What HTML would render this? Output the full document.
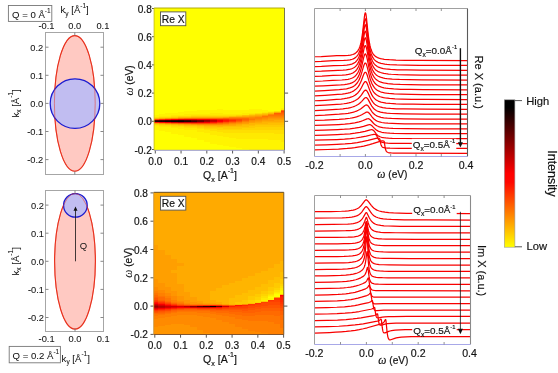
<!DOCTYPE html>
<html lang="en">
<head>
<meta charset="utf-8">
<title>Figure</title>
<style>
html,body{margin:0;padding:0;background:#fff;}
body{width:558px;height:373px;overflow:hidden;}
svg{display:block;font-family:"Liberation Sans", sans-serif;}
text{stroke:#222;stroke-width:0.18px;paint-order:stroke;}
.k text{stroke-width:0.06px;}
</style>
</head>
<body>
<svg width="558" height="373" viewBox="0 0 558 373">
<rect width="558" height="373" fill="#fff"/>
<g class="k">
<ellipse cx="74.8" cy="103.4" rx="20.4" ry="67.8" fill="#ffc9c2" stroke="#e8301c" stroke-width="1.1"/>
<circle cx="75" cy="103.6" r="24.8" fill="#bcbcf4" fill-opacity="0.93" stroke="#1c1cd0" stroke-width="1.3"/>
<ellipse cx="74.8" cy="103.4" rx="20.4" ry="67.8" fill="none" stroke="#e8301c" stroke-width="1" opacity="0.45"/>
<rect x="45.5" y="32.5" width="58" height="142" fill="none" stroke="#a6a6a6" stroke-width="1"/>
<text x="43.2" y="163" font-size="9.3" text-anchor="end" fill="#111">-0.2</text>
<text x="43.2" y="134.9" font-size="9.3" text-anchor="end" fill="#111">-0.1</text>
<text x="43.2" y="106.8" font-size="9.3" text-anchor="end" fill="#111">0.0</text>
<text x="43.2" y="78.7" font-size="9.3" text-anchor="end" fill="#111">0.1</text>
<text x="43.2" y="50.6" font-size="9.3" text-anchor="end" fill="#111">0.2</text>
<text x="46.4" y="28.9" font-size="9.3" text-anchor="middle" fill="#111">-0.1</text>
<text x="74.8" y="28.9" font-size="9.3" text-anchor="middle" fill="#111">0.0</text>
<text x="102.9" y="28.9" font-size="9.3" text-anchor="middle" fill="#111">0.1</text>
<path d="M45.5 159.6 h3 M103.5 159.6 h-3 M45.5 131.5 h3 M103.5 131.5 h-3 M45.5 103.4 h3 M103.5 103.4 h-3 M45.5 75.3 h3 M103.5 75.3 h-3 M45.5 47.2 h3 M103.5 47.2 h-3 M74.8 32.5 v3 M74.8 174.5 v-3" stroke="#7a7a7a" stroke-width="0.9" fill="none"/>
<text transform="translate(18.6 103.4) rotate(-90)" font-size="9.6" text-anchor="middle" fill="#111">k<tspan font-size="6.53" dy="2.88">x</tspan><tspan dy="-2.88">&#8203;</tspan> [&#197;<tspan font-size="6.53" dy="-5.18">-1</tspan><tspan dy="5.18">&#8203;</tspan>]</text>
</g>
<g class="k">
<ellipse cx="75" cy="261.3" rx="20.4" ry="67.8" fill="#ffc9c2" stroke="#e8301c" stroke-width="1.1"/>
<circle cx="75.4" cy="205.4" r="11.8" fill="#bcbcf4" fill-opacity="0.93" stroke="#1c1cd0" stroke-width="1.3"/>
<ellipse cx="75" cy="261.3" rx="20.4" ry="67.8" fill="none" stroke="#e8301c" stroke-width="1" opacity="0.45"/>
<line x1="75.5" y1="261.3" x2="75.5" y2="208.4" stroke="#111" stroke-width="0.8"/>
<path d="M75.5 206.4 l-2 4.4 h4 z" fill="#111"/>
<text x="83.5" y="249.3" font-size="9.5" text-anchor="middle" fill="#111" style="stroke-width:0">Q</text>
<rect x="45.5" y="190.5" width="58" height="141" fill="none" stroke="#a6a6a6" stroke-width="1"/>
<text x="44" y="320.9" font-size="9.3" text-anchor="end" fill="#111">-0.2</text>
<text x="44" y="292.8" font-size="9.3" text-anchor="end" fill="#111">-0.1</text>
<text x="44" y="264.7" font-size="9.3" text-anchor="end" fill="#111">0.0</text>
<text x="44" y="236.6" font-size="9.3" text-anchor="end" fill="#111">0.1</text>
<text x="44" y="208.5" font-size="9.3" text-anchor="end" fill="#111">0.2</text>
<text x="46.6" y="342.3" font-size="9.3" text-anchor="middle" fill="#111">-0.1</text>
<text x="75" y="342.3" font-size="9.3" text-anchor="middle" fill="#111">0.0</text>
<text x="103.1" y="342.3" font-size="9.3" text-anchor="middle" fill="#111">0.1</text>
<path d="M45.5 317.5 h3 M103.5 317.5 h-3 M45.5 289.4 h3 M103.5 289.4 h-3 M45.5 261.3 h3 M103.5 261.3 h-3 M45.5 233.2 h3 M103.5 233.2 h-3 M45.5 205.1 h3 M103.5 205.1 h-3 M75 190.5 v3 M75 331.5 v-3" stroke="#7a7a7a" stroke-width="0.9" fill="none"/>
<text transform="translate(18.6 261.3) rotate(-90)" font-size="9.6" text-anchor="middle" fill="#111">k<tspan font-size="6.53" dy="2.88">x</tspan><tspan dy="-2.88">&#8203;</tspan> [&#197;<tspan font-size="6.53" dy="-5.18">-1</tspan><tspan dy="5.18">&#8203;</tspan>]</text>
</g>
<g class="k">
<rect x="8.4" y="5.5" width="43.4" height="15.9" fill="#fff" stroke="#777" stroke-width="0.9"/>
<text x="12" y="18.4" font-size="9.6" text-anchor="start" fill="#111">Q = 0 &#197;<tspan font-size="6.53" dy="-5.18">-1</tspan><tspan dy="5.18">&#8203;</tspan></text>
<text x="60.5" y="13.2" font-size="9.6" text-anchor="start" fill="#111">k<tspan font-size="6.53" dy="2.88">y</tspan><tspan dy="-2.88">&#8203;</tspan> [&#197;<tspan font-size="6.53" dy="-5.18">-1</tspan><tspan dy="5.18">&#8203;</tspan>]</text>
<rect x="9.2" y="346.4" width="51.2" height="16.4" fill="#fff" stroke="#777" stroke-width="0.9"/>
<text x="12.6" y="359.3" font-size="9.6" text-anchor="start" fill="#111">Q = 0.2 &#197;<tspan font-size="6.53" dy="-5.18">-1</tspan><tspan dy="5.18">&#8203;</tspan></text>
<text x="61.6" y="361.5" font-size="9.6" text-anchor="start" fill="#111">k<tspan font-size="6.53" dy="2.88">y</tspan><tspan dy="-2.88">&#8203;</tspan> [&#197;<tspan font-size="6.53" dy="-5.18">-1</tspan><tspan dy="5.18">&#8203;</tspan>]</text>
</g>
<g shape-rendering="crispEdges">
<rect x="154.1" y="8" width="130.4" height="142.3" fill="#ffff00"/>
<path fill="#fff400" d="M154.1 115.2H158.5V117.2H154.1zM154.1 126.2H158.5V130.3H154.1zM158.5 114.2H165V116.2H158.5zM158.5 127.3H165V131.3H158.5zM165 113.2H171.4V116.2H165zM165 127.3H171.4V132.3H165zM171.4 113.2H177.8V115.2H171.4zM171.4 128.3H177.8V134.3H171.4zM177.8 112.2H184.3V115.2H177.8zM177.8 129.3H184.3V135.3H177.8zM184.3 111.2H190.7V114.2H184.3zM184.3 130.3H190.7V137.3H184.3zM190.7 111.2H197.2V114.2H190.7zM190.7 130.3H197.2V138.3H190.7zM197.2 110.2H203.6V114.2H197.2zM197.2 132.3H203.6V140.3H197.2zM203.6 110.2H210V114.2H203.6zM203.6 133.3H210V142.3H203.6zM210 110.2H216.5V113.2H210zM210 135.3H216.5V144.3H210zM216.5 109.2H222.9V113.2H216.5zM216.5 136.3H222.9V145.3H216.5zM222.9 110.2H229.4V114.2H222.9zM222.9 137.3H229.4V146.3H222.9zM229.4 110.2H235.8V114.2H229.4zM229.4 138.3H235.8V147.3H229.4zM235.8 110.2H242.2V114.2H235.8zM235.8 139.3H242.2V148.3H235.8zM242.2 110.2H248.7V113.2H242.2zM242.2 139.3H248.7V149.3H242.2zM248.7 109.2H255.1V113.2H248.7zM248.7 139.3H255.1V150.3H248.7zM255.1 109.2H261.6V113.2H255.1zM255.1 139.3H261.6V150.3H255.1zM261.6 110.2H268V112.2H261.6zM261.6 139.3H268V150.3H261.6zM268 111.2H274.4V112.2H268zM268 140.3H274.4V150.3H268zM274.4 140.3H280.9V150.3H274.4zM280.9 108.2H284.5V109.2H280.9zM280.9 142.3H284.5V150.3H280.9z"/>
<path fill="#ffdf00" d="M154.1 117.2H158.5V118.2H154.1zM158.5 125.2H165V126.2H158.5zM165 125.2H171.4V126.2H165zM171.4 116.2H177.8V117.2H171.4zM171.4 126.2H177.8V127.3H171.4zM177.8 126.2H184.3V127.3H177.8zM184.3 127.3H190.7V128.3H184.3zM190.7 115.2H197.2V116.2H190.7zM190.7 127.3H197.2V128.3H190.7zM197.2 115.2H203.6V116.2H197.2zM197.2 128.3H203.6V129.3H197.2zM203.6 115.2H210V116.2H203.6zM203.6 129.3H210V130.3H203.6zM210 115.2H216.5V116.2H210zM210 129.3H216.5V131.3H210zM216.5 115.2H222.9V116.2H216.5zM216.5 130.3H222.9V132.3H216.5zM222.9 115.2H229.4V116.2H222.9zM222.9 130.3H229.4V133.3H222.9zM229.4 115.2H235.8V116.2H229.4zM229.4 130.3H235.8V133.3H229.4zM235.8 130.3H242.2V133.3H235.8zM242.2 130.3H248.7V133.3H242.2zM248.7 130.3H255.1V133.3H248.7zM255.1 113.2H261.6V114.2H255.1zM255.1 130.3H261.6V133.3H255.1zM261.6 130.3H268V133.3H261.6zM268 130.3H274.4V133.3H268zM274.4 111.2H280.9V112.2H274.4zM274.4 130.3H280.9V134.3H274.4zM280.9 130.3H284.5V134.3H280.9z"/>
<path fill="#ffb500" d="M154.1 118.2H158.5V119.2H154.1zM171.4 124.2H177.8V125.2H171.4zM177.8 117.2H184.3V118.2H177.8zM184.3 117.2H190.7V118.2H184.3zM197.2 125.2H203.6V126.2H197.2zM216.5 126.2H222.9V127.3H216.5zM235.8 116.2H242.2V117.2H235.8zM235.8 125.2H242.2V126.2H235.8zM242.2 124.2H248.7V125.2H242.2zM248.7 115.2H255.1V116.2H248.7zM248.7 123.2H255.1V125.2H248.7zM255.1 123.2H261.6V124.2H255.1zM261.6 114.2H268V115.2H261.6zM261.6 122.2H268V124.2H261.6zM268 113.2H274.4V114.2H268zM268 122.2H274.4V123.2H268zM274.4 122.2H280.9V123.2H274.4zM280.9 122.2H284.5V123.2H280.9z"/>
<path fill="#ff4a00" d="M154.1 119.2H158.5V120.2H154.1zM190.7 123.2H197.2V124.2H190.7zM197.2 123.2H203.6V124.2H197.2zM203.6 123.2H210V124.2H203.6zM235.8 119.2H242.2V121.2H235.8z"/>
<path fill="#550000" d="M154.1 120.2H158.5V121.2H154.1z"/>
<path fill="#200000" d="M154.1 121.2H158.5V122.2H154.1zM158.5 121.2H165V122.2H158.5zM184.3 121.2H190.7V122.2H184.3z"/>
<path fill="#ff2000" d="M154.1 122.2H158.5V123.2H154.1zM216.5 119.2H222.9V120.2H216.5zM222.9 121.2H229.4V122.2H222.9z"/>
<path fill="#ffaa00" d="M154.1 123.2H158.5V124.2H154.1zM158.5 118.2H165V119.2H158.5zM177.8 124.2H184.3V125.2H177.8zM190.7 117.2H197.2V118.2H190.7zM197.2 117.2H203.6V118.2H197.2zM203.6 117.2H210V118.2H203.6zM203.6 125.2H210V126.2H203.6zM210 117.2H216.5V118.2H210zM210 125.2H216.5V126.2H210zM216.5 117.2H222.9V118.2H216.5zM216.5 125.2H222.9V126.2H216.5zM222.9 125.2H229.4V126.2H222.9zM229.4 125.2H235.8V126.2H229.4zM235.8 124.2H242.2V125.2H235.8zM242.2 116.2H248.7V117.2H242.2zM255.1 115.2H261.6V116.2H255.1zM255.1 122.2H261.6V123.2H255.1zM261.6 121.2H268V122.2H261.6zM268 121.2H274.4V122.2H268zM274.4 112.2H280.9V113.2H274.4zM274.4 120.2H280.9V122.2H274.4zM280.9 120.2H284.5V122.2H280.9z"/>
<path fill="#ffd400" d="M154.1 124.2H158.5V125.2H154.1zM158.5 117.2H165V118.2H158.5zM165 117.2H171.4V118.2H165zM171.4 125.2H177.8V126.2H171.4zM177.8 116.2H184.3V117.2H177.8zM184.3 116.2H190.7V117.2H184.3zM184.3 126.2H190.7V127.3H184.3zM190.7 126.2H197.2V127.3H190.7zM197.2 127.3H203.6V128.3H197.2zM203.6 128.3H210V129.3H203.6zM210 128.3H216.5V129.3H210zM216.5 128.3H222.9V130.3H216.5zM222.9 129.3H229.4V130.3H222.9zM229.4 129.3H235.8V130.3H229.4zM235.8 115.2H242.2V116.2H235.8zM235.8 129.3H242.2V130.3H235.8zM242.2 128.3H248.7V130.3H242.2zM248.7 114.2H255.1V115.2H248.7zM248.7 128.3H255.1V130.3H248.7zM255.1 127.3H261.6V130.3H255.1zM261.6 127.3H268V130.3H261.6zM268 112.2H274.4V113.2H268zM268 127.3H274.4V130.3H268zM274.4 127.3H280.9V130.3H274.4zM280.9 127.3H284.5V130.3H280.9z"/>
<path fill="#ffea00" d="M154.1 125.2H158.5V126.2H154.1zM158.5 116.2H165V117.2H158.5zM158.5 126.2H165V127.3H158.5zM165 116.2H171.4V117.2H165zM165 126.2H171.4V127.3H165zM171.4 115.2H177.8V116.2H171.4zM171.4 127.3H177.8V128.3H171.4zM177.8 115.2H184.3V116.2H177.8zM177.8 127.3H184.3V129.3H177.8zM184.3 114.2H190.7V116.2H184.3zM184.3 128.3H190.7V130.3H184.3zM190.7 114.2H197.2V115.2H190.7zM190.7 128.3H197.2V130.3H190.7zM197.2 114.2H203.6V115.2H197.2zM197.2 129.3H203.6V132.3H197.2zM203.6 114.2H210V115.2H203.6zM203.6 130.3H210V133.3H203.6zM210 113.2H216.5V115.2H210zM210 131.3H216.5V135.3H210zM216.5 113.2H222.9V115.2H216.5zM216.5 132.3H222.9V136.3H216.5zM222.9 114.2H229.4V115.2H222.9zM222.9 133.3H229.4V137.3H222.9zM229.4 114.2H235.8V115.2H229.4zM229.4 133.3H235.8V138.3H229.4zM235.8 114.2H242.2V115.2H235.8zM235.8 133.3H242.2V139.3H235.8zM242.2 113.2H248.7V115.2H242.2zM242.2 133.3H248.7V139.3H242.2zM248.7 113.2H255.1V114.2H248.7zM248.7 133.3H255.1V139.3H248.7zM255.1 133.3H261.6V139.3H255.1zM261.6 112.2H268V113.2H261.6zM261.6 133.3H268V139.3H261.6zM268 133.3H274.4V140.3H268zM274.4 134.3H280.9V140.3H274.4zM280.9 109.2H284.5V110.2H280.9zM280.9 134.3H284.5V142.3H280.9z"/>
<path fill="#ff2a00" d="M158.5 119.2H165V120.2H158.5zM222.9 119.2H229.4V120.2H222.9zM229.4 120.2H235.8V121.2H229.4z"/>
<path fill="#4a0000" d="M158.5 120.2H165V121.2H158.5z"/>
<path fill="#ff0b00" d="M158.5 122.2H165V123.2H158.5zM210 119.2H216.5V120.2H210z"/>
<path fill="#ff9500" d="M158.5 123.2H165V124.2H158.5zM165 118.2H171.4V119.2H165zM190.7 124.2H197.2V125.2H190.7zM222.9 124.2H229.4V125.2H222.9zM235.8 123.2H242.2V124.2H235.8zM242.2 122.2H248.7V123.2H242.2zM248.7 121.2H255.1V122.2H248.7zM255.1 116.2H261.6V117.2H255.1zM255.1 120.2H261.6V121.2H255.1zM261.6 115.2H268V116.2H261.6zM261.6 119.2H268V120.2H261.6zM268 118.2H274.4V119.2H268zM274.4 118.2H280.9V119.2H274.4zM280.9 118.2H284.5V119.2H280.9z"/>
<path fill="#ffca00" d="M158.5 124.2H165V125.2H158.5zM171.4 117.2H177.8V118.2H171.4zM177.8 125.2H184.3V126.2H177.8zM190.7 116.2H197.2V117.2H190.7zM197.2 116.2H203.6V117.2H197.2zM197.2 126.2H203.6V127.3H197.2zM203.6 116.2H210V117.2H203.6zM203.6 127.3H210V128.3H203.6zM210 116.2H216.5V117.2H210zM210 127.3H216.5V128.3H210zM216.5 116.2H222.9V117.2H216.5zM216.5 127.3H222.9V128.3H216.5zM222.9 116.2H229.4V117.2H222.9zM222.9 127.3H229.4V129.3H222.9zM229.4 127.3H235.8V129.3H229.4zM235.8 127.3H242.2V129.3H235.8zM242.2 127.3H248.7V128.3H242.2zM248.7 126.2H255.1V128.3H248.7zM255.1 125.2H261.6V127.3H255.1zM261.6 113.2H268V114.2H261.6zM261.6 125.2H268V127.3H261.6zM268 125.2H274.4V127.3H268zM274.4 125.2H280.9V127.3H274.4zM280.9 125.2H284.5V127.3H280.9z"/>
<path fill="#ff1500" d="M165 119.2H171.4V120.2H165zM210 122.2H216.5V123.2H210zM222.9 120.2H229.4V121.2H222.9z"/>
<path fill="#400000" d="M165 120.2H171.4V121.2H165zM184.3 120.2H190.7V121.2H184.3zM190.7 121.2H197.2V122.2H190.7z"/>
<path fill="#150000" d="M165 121.2H171.4V122.2H165z"/>
<path fill="#f40000" d="M165 122.2H171.4V123.2H165zM203.6 122.2H210V123.2H203.6zM216.5 120.2H222.9V121.2H216.5z"/>
<path fill="#ff8000" d="M165 123.2H171.4V124.2H165zM235.8 122.2H242.2V123.2H235.8zM242.2 121.2H248.7V122.2H242.2zM248.7 118.2H255.1V119.2H248.7zM255.1 117.2H261.6V119.2H255.1zM261.6 117.2H268V118.2H261.6zM268 116.2H274.4V117.2H268zM274.4 116.2H280.9V117.2H274.4zM280.9 116.2H284.5V117.2H280.9z"/>
<path fill="#ffbf00" d="M165 124.2H171.4V125.2H165zM184.3 125.2H190.7V126.2H184.3zM190.7 125.2H197.2V126.2H190.7zM203.6 126.2H210V127.3H203.6zM210 126.2H216.5V127.3H210zM222.9 126.2H229.4V127.3H222.9zM229.4 116.2H235.8V117.2H229.4zM229.4 126.2H235.8V127.3H229.4zM235.8 126.2H242.2V127.3H235.8zM242.2 115.2H248.7V116.2H242.2zM242.2 125.2H248.7V127.3H242.2zM248.7 125.2H255.1V126.2H248.7zM255.1 114.2H261.6V115.2H255.1zM255.1 124.2H261.6V125.2H255.1zM261.6 124.2H268V125.2H261.6zM268 123.2H274.4V125.2H268zM274.4 123.2H280.9V125.2H274.4zM280.9 123.2H284.5V125.2H280.9z"/>
<path fill="#ff8a00" d="M171.4 118.2H177.8V119.2H171.4zM197.2 124.2H203.6V125.2H197.2zM203.6 124.2H210V125.2H203.6zM210 124.2H216.5V125.2H210zM216.5 124.2H222.9V125.2H216.5zM229.4 117.2H235.8V118.2H229.4zM229.4 123.2H235.8V124.2H229.4zM235.8 117.2H242.2V118.2H235.8zM242.2 117.2H248.7V118.2H242.2zM248.7 117.2H255.1V118.2H248.7zM248.7 120.2H255.1V121.2H248.7zM255.1 119.2H261.6V120.2H255.1zM261.6 118.2H268V119.2H261.6zM268 114.2H274.4V115.2H268zM268 117.2H274.4V118.2H268zM274.4 117.2H280.9V118.2H274.4zM280.9 117.2H284.5V118.2H280.9z"/>
<path fill="#ff0000" d="M171.4 119.2H177.8V120.2H171.4zM197.2 119.2H203.6V120.2H197.2zM203.6 119.2H210V120.2H203.6zM216.5 121.2H222.9V122.2H216.5z"/>
<path fill="#350000" d="M171.4 120.2H177.8V121.2H171.4z"/>
<path fill="#0b0000" d="M171.4 121.2H177.8V122.2H171.4zM177.8 121.2H184.3V122.2H177.8z"/>
<path fill="#d40000" d="M171.4 122.2H177.8V123.2H171.4z"/>
<path fill="#ff6a00" d="M171.4 123.2H177.8V124.2H171.4zM184.3 118.2H190.7V119.2H184.3zM190.7 118.2H197.2V119.2H190.7zM197.2 118.2H203.6V119.2H197.2zM203.6 118.2H210V119.2H203.6zM210 118.2H216.5V119.2H210zM216.5 118.2H222.9V119.2H216.5zM216.5 123.2H222.9V124.2H216.5zM229.4 118.2H235.8V119.2H229.4zM229.4 122.2H235.8V123.2H229.4zM235.8 118.2H242.2V119.2H235.8zM242.2 118.2H248.7V119.2H242.2zM242.2 120.2H248.7V121.2H242.2zM274.4 114.2H280.9V115.2H274.4zM280.9 114.2H284.5V115.2H280.9z"/>
<path fill="#ff7500" d="M177.8 118.2H184.3V119.2H177.8zM222.9 123.2H229.4V124.2H222.9zM248.7 119.2H255.1V120.2H248.7zM261.6 116.2H268V117.2H261.6zM268 115.2H274.4V116.2H268zM274.4 115.2H280.9V116.2H274.4zM280.9 110.2H284.5V111.2H280.9zM280.9 115.2H284.5V116.2H280.9z"/>
<path fill="#ea0000" d="M177.8 119.2H184.3V120.2H177.8zM184.3 119.2H190.7V120.2H184.3zM190.7 119.2H197.2V120.2H190.7z"/>
<path fill="#2b0000" d="M177.8 120.2H184.3V121.2H177.8z"/>
<path fill="#bf0000" d="M177.8 122.2H184.3V123.2H177.8zM210 120.2H216.5V121.2H210z"/>
<path fill="#ff6000" d="M177.8 123.2H184.3V124.2H177.8zM222.9 118.2H229.4V119.2H222.9zM235.8 121.2H242.2V122.2H235.8zM242.2 119.2H248.7V120.2H242.2zM274.4 113.2H280.9V114.2H274.4zM280.9 113.2H284.5V114.2H280.9z"/>
<path fill="#ca0000" d="M184.3 122.2H190.7V123.2H184.3zM190.7 122.2H197.2V123.2H190.7zM210 121.2H216.5V122.2H210z"/>
<path fill="#ff5500" d="M184.3 123.2H190.7V124.2H184.3zM210 123.2H216.5V124.2H210zM222.9 122.2H229.4V123.2H222.9zM280.9 112.2H284.5V113.2H280.9z"/>
<path fill="#ff9f00" d="M184.3 124.2H190.7V125.2H184.3zM222.9 117.2H229.4V118.2H222.9zM229.4 124.2H235.8V125.2H229.4zM242.2 123.2H248.7V124.2H242.2zM248.7 116.2H255.1V117.2H248.7zM248.7 122.2H255.1V123.2H248.7zM255.1 121.2H261.6V122.2H255.1zM261.6 120.2H268V121.2H261.6zM268 119.2H274.4V121.2H268zM274.4 119.2H280.9V120.2H274.4zM280.9 119.2H284.5V120.2H280.9z"/>
<path fill="#600000" d="M190.7 120.2H197.2V121.2H190.7z"/>
<path fill="#750000" d="M197.2 120.2H203.6V121.2H197.2z"/>
<path fill="#6a0000" d="M197.2 121.2H203.6V122.2H197.2z"/>
<path fill="#df0000" d="M197.2 122.2H203.6V123.2H197.2z"/>
<path fill="#950000" d="M203.6 120.2H210V121.2H203.6z"/>
<path fill="#9f0000" d="M203.6 121.2H210V122.2H203.6z"/>
<path fill="#ff3500" d="M216.5 122.2H222.9V123.2H216.5z"/>
<path fill="#ff4000" d="M229.4 119.2H235.8V120.2H229.4zM229.4 121.2H235.8V122.2H229.4zM280.9 111.2H284.5V112.2H280.9z"/>
</g>
<text x="151.8" y="12.5" font-size="10.1" text-anchor="end" fill="#111">0.8</text>
<text x="151.8" y="40.7" font-size="10.1" text-anchor="end" fill="#111">0.6</text>
<text x="151.8" y="68.9" font-size="10.1" text-anchor="end" fill="#111">0.4</text>
<text x="151.8" y="97.1" font-size="10.1" text-anchor="end" fill="#111">0.2</text>
<text x="151.8" y="125.3" font-size="10.1" text-anchor="end" fill="#111">0.0</text>
<text x="151.8" y="153.5" font-size="10.1" text-anchor="end" fill="#111">-0.2</text>
<text x="155.3" y="164.7" font-size="10.1" text-anchor="middle" fill="#111">0.0</text>
<text x="181.06" y="164.7" font-size="10.1" text-anchor="middle" fill="#111">0.1</text>
<text x="206.82" y="164.7" font-size="10.1" text-anchor="middle" fill="#111">0.2</text>
<text x="232.58" y="164.7" font-size="10.1" text-anchor="middle" fill="#111">0.3</text>
<text x="258.34" y="164.7" font-size="10.1" text-anchor="middle" fill="#111">0.4</text>
<text x="284.1" y="164.7" font-size="10.1" text-anchor="middle" fill="#111">0.5</text>
<path d="M154.1 8.5 h-2.2 M154.1 36.7 h-2.2 M154.1 64.9 h-2.2 M154.1 93.1 h-2.2 M154.1 121.3 h-2.2 M154.1 149.5 h-2.2 M284.5 93.1 h3.6 M284.5 121.3 h3.6 M155.3 150.3 v3.2 M181.06 150.3 v3.2 M206.82 150.3 v3.2 M232.58 150.3 v3.2 M258.34 150.3 v3.2 M284.1 150.3 v3.2" stroke="#444" stroke-width="0.9" fill="none"/>
<path d="M154.1 8 H284.5" stroke="#a8a000" stroke-width="0.9" fill="none"/>
<path d="M284.5 8 V150.3" stroke="#6a6a50" stroke-width="0.9" fill="none"/>
<path d="M154.1 150.3 H284.5" stroke="#9090c0" stroke-width="0.9" fill="none"/>
<path d="M154.1 8 V150.3" stroke="#c8c020" stroke-width="0.9" fill="none"/>
<text x="220" y="178.5" font-size="10.5" text-anchor="middle" fill="#111">Q<tspan font-size="7.14" dy="3.15">x</tspan><tspan dy="-3.15">&#8203;</tspan> [A<tspan font-size="7.14" dy="-5.67">-1</tspan><tspan dy="5.67">&#8203;</tspan>]</text>
<text transform="translate(133.2 80.5) rotate(-90)" font-size="10.2" text-anchor="middle" fill="#111"><tspan font-family="'Liberation Serif', 'DejaVu Serif', serif" font-style="italic" font-size="11.5" style="stroke-width:0">&#969;</tspan> (eV)</text>
<rect x="160.5" y="11.9" width="25.3" height="13.8" fill="#fff" stroke="#555" stroke-width="0.9"/>
<text x="173.2" y="22.7" font-size="10.3" text-anchor="middle" fill="#111">Re X</text>
<g shape-rendering="crispEdges">
<rect x="153.7" y="192.3" width="130.1" height="142.2" fill="#ffaa00"/>
<path fill="#ff9f00" d="M153.7 245.4H158V279.4H153.7zM158 250.4H164.5V283.4H158zM164.5 255.4H170.9V287.4H164.5zM170.9 259.4H177.3V270.4H170.9zM170.9 273.4H177.3V291.4H170.9zM177.3 263.4H183.8V266.4H177.3zM177.3 284.4H183.8V296.4H177.3zM183.8 292.4H190.2V299.5H183.8zM190.2 297.4H196.7V301.5H190.2zM196.7 300.5H203.1V302.5H196.7zM203.1 302.5H209.5V303.5H203.1zM209.5 302.5H216V303.5H209.5zM222.4 303.5H228.9V304.5H222.4zM273.9 297.4H280.4V298.4H273.9z"/>
<path fill="#ff9500" d="M153.7 279.4H158V287.4H153.7zM153.7 326.5H158V334.5H153.7zM158 283.4H164.5V290.4H158zM158 325.5H164.5V334.5H158zM164.5 287.4H170.9V293.4H164.5zM164.5 324.5H170.9V334.5H164.5zM170.9 291.4H177.3V296.4H170.9zM170.9 323.5H177.3V334.5H170.9zM177.3 296.4H183.8V300.5H177.3zM177.3 323.5H183.8V334.5H177.3zM183.8 299.5H190.2V302.5H183.8zM183.8 324.5H190.2V334.5H183.8zM190.2 301.5H196.7V303.5H190.2zM190.2 326.5H196.7V334.5H190.2zM196.7 302.5H203.1V303.5H196.7zM196.7 329.5H203.1V334.5H196.7zM203.1 332.5H209.5V334.5H203.1z"/>
<path fill="#ff8a00" d="M153.7 287.4H158V291.4H153.7zM153.7 318.5H158V326.5H153.7zM158 290.4H164.5V293.4H158zM158 317.5H164.5V325.5H158zM164.5 293.4H170.9V296.4H164.5zM164.5 316.5H170.9V324.5H164.5zM170.9 296.4H177.3V299.5H170.9zM170.9 315.5H177.3V323.5H170.9zM177.3 300.5H183.8V301.5H177.3zM177.3 314.5H183.8V323.5H177.3zM183.8 302.5H190.2V303.5H183.8zM183.8 314.5H190.2V324.5H183.8zM190.2 314.5H196.7V326.5H190.2zM196.7 315.5H203.1V329.5H196.7zM203.1 303.5H209.5V304.5H203.1zM203.1 316.5H209.5V332.5H203.1zM209.5 303.5H216V304.5H209.5zM209.5 317.5H216V334.5H209.5zM216 303.5H222.4V304.5H216zM216 319.5H222.4V334.5H216zM222.4 321.5H228.9V334.5H222.4zM228.9 323.5H235.3V334.5H228.9zM235.3 326.5H241.7V334.5H235.3zM241.7 303.5H248.2V304.5H241.7zM241.7 328.5H248.2V334.5H241.7zM248.2 330.5H254.6V334.5H248.2zM254.6 331.5H261.1V334.5H254.6zM261.1 332.5H267.5V334.5H261.1z"/>
<path fill="#ff8000" d="M153.7 291.4H158V293.4H153.7zM153.7 315.5H158V318.5H153.7zM158 293.4H164.5V296.4H158zM158 314.5H164.5V317.5H158zM164.5 296.4H170.9V298.4H164.5zM164.5 313.5H170.9V316.5H164.5zM170.9 299.5H177.3V301.5H170.9zM170.9 312.5H177.3V315.5H170.9zM177.3 301.5H183.8V302.5H177.3zM177.3 311.5H183.8V314.5H177.3zM183.8 311.5H190.2V314.5H183.8zM190.2 303.5H196.7V304.5H190.2zM190.2 311.5H196.7V314.5H190.2zM196.7 303.5H203.1V304.5H196.7zM196.7 312.5H203.1V315.5H196.7zM203.1 312.5H209.5V316.5H203.1zM209.5 313.5H216V317.5H209.5zM216 314.5H222.4V319.5H216zM222.4 315.5H228.9V321.5H222.4zM228.9 316.5H235.3V323.5H228.9zM235.3 318.5H241.7V326.5H235.3zM241.7 319.5H248.2V328.5H241.7zM248.2 320.5H254.6V330.5H248.2zM254.6 320.5H261.1V331.5H254.6zM261.1 320.5H267.5V332.5H261.1zM267.5 321.5H273.9V334.5H267.5zM273.9 323.5H280.4V334.5H273.9zM280.4 327.5H283.8V334.5H280.4z"/>
<path fill="#ff7500" d="M153.7 293.4H158V295.4H153.7zM153.7 313.5H158V315.5H153.7zM158 296.4H164.5V297.4H158zM158 313.5H164.5V314.5H158zM164.5 298.4H170.9V300.5H164.5zM164.5 312.5H170.9V313.5H164.5zM170.9 301.5H177.3V302.5H170.9zM170.9 311.5H177.3V312.5H170.9zM177.3 302.5H183.8V303.5H177.3zM177.3 310.5H183.8V311.5H177.3zM183.8 303.5H190.2V304.5H183.8zM183.8 310.5H190.2V311.5H183.8zM190.2 310.5H196.7V311.5H190.2zM196.7 310.5H203.1V312.5H196.7zM203.1 310.5H209.5V312.5H203.1zM209.5 311.5H216V313.5H209.5zM216 312.5H222.4V314.5H216zM222.4 312.5H228.9V315.5H222.4zM228.9 313.5H235.3V316.5H228.9zM235.3 314.5H241.7V318.5H235.3zM241.7 315.5H248.2V319.5H241.7zM248.2 315.5H254.6V320.5H248.2zM254.6 314.5H261.1V320.5H254.6zM261.1 314.5H267.5V320.5H261.1zM267.5 314.5H273.9V321.5H267.5zM273.9 315.5H280.4V323.5H273.9zM280.4 319.5H283.8V327.5H280.4z"/>
<path fill="#ff6a00" d="M153.7 295.4H158V297.4H153.7zM153.7 312.5H158V313.5H153.7zM158 297.4H164.5V299.5H158zM158 312.5H164.5V313.5H158zM164.5 300.5H170.9V301.5H164.5zM164.5 311.5H170.9V312.5H164.5zM170.9 310.5H177.3V311.5H170.9zM177.3 309.5H183.8V310.5H177.3zM183.8 309.5H190.2V310.5H183.8zM190.2 309.5H196.7V310.5H190.2zM196.7 309.5H203.1V310.5H196.7zM203.1 309.5H209.5V310.5H203.1zM209.5 310.5H216V311.5H209.5zM216 310.5H222.4V312.5H216zM222.4 310.5H228.9V312.5H222.4zM228.9 311.5H235.3V313.5H228.9zM235.3 311.5H241.7V314.5H235.3zM241.7 312.5H248.2V315.5H241.7zM248.2 312.5H254.6V315.5H248.2zM254.6 311.5H261.1V314.5H254.6zM261.1 310.5H267.5V314.5H261.1zM267.5 310.5H273.9V314.5H267.5zM273.9 310.5H280.4V315.5H273.9zM280.4 314.5H283.8V319.5H280.4z"/>
<path fill="#ff6000" d="M153.7 297.4H158V298.4H153.7zM158 299.5H164.5V300.5H158zM158 311.5H164.5V312.5H158zM164.5 310.5H170.9V311.5H164.5zM170.9 302.5H177.3V303.5H170.9zM170.9 309.5H177.3V310.5H170.9zM177.3 303.5H183.8V304.5H177.3zM183.8 308.5H190.2V309.5H183.8zM190.2 308.5H196.7V309.5H190.2zM209.5 309.5H216V310.5H209.5zM216 309.5H222.4V310.5H216zM222.4 309.5H228.9V310.5H222.4zM228.9 304.5H235.3V305.5H228.9zM228.9 309.5H235.3V311.5H228.9zM235.3 309.5H241.7V311.5H235.3zM241.7 310.5H248.2V312.5H241.7zM248.2 309.5H254.6V312.5H248.2zM254.6 308.5H261.1V311.5H254.6zM261.1 307.5H267.5V310.5H261.1zM267.5 307.5H273.9V310.5H267.5zM273.9 307.5H280.4V310.5H273.9zM280.4 310.5H283.8V314.5H280.4z"/>
<path fill="#ff5500" d="M153.7 298.4H158V299.5H153.7zM153.7 311.5H158V312.5H153.7zM158 310.5H164.5V311.5H158zM164.5 301.5H170.9V302.5H164.5zM177.3 308.5H183.8V309.5H177.3zM196.7 308.5H203.1V309.5H196.7zM203.1 308.5H209.5V309.5H203.1zM209.5 308.5H216V309.5H209.5zM222.4 308.5H228.9V309.5H222.4zM228.9 308.5H235.3V309.5H228.9zM235.3 308.5H241.7V309.5H235.3zM241.7 308.5H248.2V310.5H241.7zM248.2 307.5H254.6V309.5H248.2zM254.6 306.5H261.1V308.5H254.6zM261.1 305.5H267.5V307.5H261.1zM267.5 304.5H273.9V307.5H267.5zM273.9 304.5H280.4V307.5H273.9zM280.4 307.5H283.8V310.5H280.4z"/>
<path fill="#ff4000" d="M153.7 299.5H158V300.5H153.7zM158 309.5H164.5V310.5H158zM164.5 302.5H170.9V303.5H164.5zM170.9 303.5H177.3V304.5H170.9zM183.8 304.5H190.2V305.5H183.8zM183.8 307.5H190.2V308.5H183.8zM190.2 304.5H196.7V305.5H190.2zM190.2 307.5H196.7V308.5H190.2zM222.4 307.5H228.9V308.5H222.4zM228.9 306.5H235.3V307.5H228.9zM235.3 306.5H241.7V307.5H235.3zM241.7 305.5H248.2V307.5H241.7zM248.2 304.5H254.6V305.5H248.2zM254.6 303.5H261.1V304.5H254.6zM261.1 301.5H267.5V302.5H261.1zM267.5 300.5H273.9V301.5H267.5zM273.9 299.5H280.4V301.5H273.9zM280.4 303.5H283.8V305.5H280.4z"/>
<path fill="#ff3500" d="M153.7 300.5H158V301.5H153.7zM153.7 309.5H158V310.5H153.7zM158 301.5H164.5V302.5H158zM164.5 308.5H170.9V309.5H164.5zM177.3 304.5H183.8V305.5H177.3zM177.3 307.5H183.8V308.5H177.3zM196.7 304.5H203.1V305.5H196.7zM196.7 307.5H203.1V308.5H196.7zM203.1 307.5H209.5V308.5H203.1zM209.5 307.5H216V308.5H209.5zM216 307.5H222.4V308.5H216zM235.3 305.5H241.7V306.5H235.3zM248.2 303.5H254.6V304.5H248.2zM254.6 302.5H261.1V303.5H254.6zM267.5 299.5H273.9V300.5H267.5zM273.9 298.4H280.4V299.5H273.9zM280.4 301.5H283.8V303.5H280.4z"/>
<path fill="#ff1500" d="M153.7 301.5H158V302.5H153.7zM170.9 304.5H177.3V305.5H170.9zM235.3 304.5H241.7V305.5H235.3zM280.4 296.4H283.8V297.4H280.4z"/>
<path fill="#ff0000" d="M153.7 302.5H158V303.5H153.7zM177.3 306.5H183.8V307.5H177.3zM216 306.5H222.4V307.5H216zM280.4 295.4H283.8V296.4H280.4z"/>
<path fill="#d40000" d="M153.7 303.5H158V304.5H153.7zM158 304.5H164.5V305.5H158zM164.5 306.5H170.9V307.5H164.5zM177.3 305.5H183.8V306.5H177.3zM196.7 306.5H203.1V307.5H196.7zM203.1 306.5H209.5V307.5H203.1zM222.4 305.5H228.9V306.5H222.4z"/>
<path fill="#b50000" d="M153.7 304.5H158V305.5H153.7zM158 305.5H164.5V306.5H158zM183.8 305.5H190.2V306.5H183.8z"/>
<path fill="#950000" d="M153.7 305.5H158V306.5H153.7z"/>
<path fill="#aa0000" d="M153.7 306.5H158V307.5H153.7z"/>
<path fill="#df0000" d="M153.7 307.5H158V308.5H153.7zM190.2 306.5H196.7V307.5H190.2zM209.5 306.5H216V307.5H209.5z"/>
<path fill="#ff0b00" d="M153.7 308.5H158V309.5H153.7zM164.5 307.5H170.9V308.5H164.5z"/>
<path fill="#ff4a00" d="M153.7 310.5H158V311.5H153.7zM158 300.5H164.5V301.5H158zM164.5 309.5H170.9V310.5H164.5zM170.9 308.5H177.3V309.5H170.9zM216 308.5H222.4V309.5H216zM222.4 304.5H228.9V305.5H222.4zM228.9 307.5H235.3V308.5H228.9zM235.3 307.5H241.7V308.5H235.3zM241.7 307.5H248.2V308.5H241.7zM248.2 305.5H254.6V307.5H248.2zM254.6 304.5H261.1V306.5H254.6zM261.1 302.5H267.5V305.5H261.1zM267.5 301.5H273.9V304.5H267.5zM273.9 301.5H280.4V304.5H273.9zM280.4 305.5H283.8V307.5H280.4z"/>
<path fill="#ff2000" d="M158 302.5H164.5V303.5H158zM158 308.5H164.5V309.5H158zM164.5 303.5H170.9V304.5H164.5zM170.9 307.5H177.3V308.5H170.9zM209.5 304.5H216V305.5H209.5zM228.9 305.5H235.3V306.5H228.9zM280.4 297.4H283.8V299.5H280.4z"/>
<path fill="#f40000" d="M158 303.5H164.5V304.5H158zM158 307.5H164.5V308.5H158zM164.5 304.5H170.9V305.5H164.5zM183.8 306.5H190.2V307.5H183.8z"/>
<path fill="#bf0000" d="M158 306.5H164.5V307.5H158z"/>
<path fill="#ca0000" d="M164.5 305.5H170.9V306.5H164.5zM170.9 305.5H177.3V306.5H170.9z"/>
<path fill="#ea0000" d="M170.9 306.5H177.3V307.5H170.9z"/>
<path fill="#8a0000" d="M190.2 305.5H196.7V306.5H190.2z"/>
<path fill="#550000" d="M196.7 305.5H203.1V306.5H196.7z"/>
<path fill="#ff2a00" d="M203.1 304.5H209.5V305.5H203.1zM216 304.5H222.4V305.5H216zM222.4 306.5H228.9V307.5H222.4zM241.7 304.5H248.2V305.5H241.7zM280.4 299.5H283.8V301.5H280.4z"/>
<path fill="#350000" d="M203.1 305.5H209.5V306.5H203.1z"/>
<path fill="#ffb500" d="M209.5 291.4H216V299.5H209.5zM216 288.4H222.4V301.5H216zM222.4 285.4H228.9V303.5H222.4zM228.9 283.4H235.3V298.4H228.9zM228.9 303.5H235.3V304.5H228.9zM235.3 281.4H241.7V295.4H235.3zM235.3 303.5H241.7V304.5H235.3zM241.7 278.4H248.2V293.4H241.7zM248.2 276.4H254.6V290.4H248.2zM254.6 273.4H261.1V287.4H254.6zM261.1 271.4H267.5V284.4H261.1zM267.5 268.4H273.9V280.4H267.5zM273.9 264.4H280.4V277.4H273.9zM280.4 261.4H283.8V272.4H280.4z"/>
<path fill="#0b0000" d="M209.5 305.5H216V306.5H209.5z"/>
<path fill="#600000" d="M216 305.5H222.4V306.5H216z"/>
<path fill="#ffbf00" d="M228.9 298.4H235.3V303.5H228.9zM235.3 295.4H241.7V301.5H235.3zM241.7 293.4H248.2V299.5H241.7zM248.2 290.4H254.6V296.4H248.2zM248.2 302.5H254.6V303.5H248.2zM254.6 287.4H261.1V294.4H254.6zM261.1 284.4H267.5V291.4H261.1zM267.5 280.4H273.9V287.4H267.5zM273.9 277.4H280.4V283.4H273.9zM280.4 272.4H283.8V279.4H280.4z"/>
<path fill="#ffca00" d="M235.3 301.5H241.7V303.5H235.3zM241.7 299.5H248.2V303.5H241.7zM248.2 296.4H254.6V299.5H248.2zM254.6 294.4H261.1V297.4H254.6zM261.1 291.4H267.5V294.4H261.1zM261.1 300.5H267.5V301.5H261.1zM267.5 287.4H273.9V291.4H267.5zM273.9 283.4H280.4V288.4H273.9zM280.4 279.4H283.8V284.4H280.4zM280.4 294.4H283.8V295.4H280.4z"/>
<path fill="#ffd400" d="M248.2 299.5H254.6V302.5H248.2zM254.6 297.4H261.1V299.5H254.6zM254.6 301.5H261.1V302.5H254.6zM261.1 294.4H267.5V296.4H261.1zM267.5 291.4H273.9V294.4H267.5zM273.9 288.4H280.4V290.4H273.9zM280.4 284.4H283.8V286.4H280.4z"/>
<path fill="#ffdf00" d="M254.6 299.5H261.1V301.5H254.6zM261.1 296.4H267.5V298.4H261.1zM267.5 294.4H273.9V295.4H267.5zM273.9 290.4H280.4V292.4H273.9zM280.4 286.4H283.8V288.4H280.4z"/>
<path fill="#ffea00" d="M261.1 298.4H267.5V299.5H261.1zM267.5 295.4H273.9V296.4H267.5zM273.9 292.4H280.4V293.4H273.9zM280.4 288.4H283.8V290.4H280.4z"/>
<path fill="#fff400" d="M261.1 299.5H267.5V300.5H261.1zM267.5 296.4H273.9V297.4H267.5zM267.5 298.4H273.9V299.5H267.5zM273.9 293.4H280.4V294.4H273.9zM280.4 290.4H283.8V291.4H280.4z"/>
<path fill="#ffff00" d="M267.5 297.4H273.9V298.4H267.5zM273.9 294.4H280.4V297.4H273.9zM280.4 291.4H283.8V294.4H280.4z"/>
</g>
<text x="148" y="196.9" font-size="10.1" text-anchor="end" fill="#111">0.8</text>
<text x="148" y="225.2" font-size="10.1" text-anchor="end" fill="#111">0.6</text>
<text x="148" y="253.5" font-size="10.1" text-anchor="end" fill="#111">0.4</text>
<text x="148" y="281.8" font-size="10.1" text-anchor="end" fill="#111">0.2</text>
<text x="148" y="310.1" font-size="10.1" text-anchor="end" fill="#111">0.0</text>
<text x="148" y="338.4" font-size="10.1" text-anchor="end" fill="#111">-0.2</text>
<text x="154.8" y="348.9" font-size="10.1" text-anchor="middle" fill="#111">0.0</text>
<text x="180.56" y="348.9" font-size="10.1" text-anchor="middle" fill="#111">0.1</text>
<text x="206.32" y="348.9" font-size="10.1" text-anchor="middle" fill="#111">0.2</text>
<text x="232.08" y="348.9" font-size="10.1" text-anchor="middle" fill="#111">0.3</text>
<text x="257.84" y="348.9" font-size="10.1" text-anchor="middle" fill="#111">0.4</text>
<text x="283.6" y="348.9" font-size="10.1" text-anchor="middle" fill="#111">0.5</text>
<path d="M153.7 192.9 h-3.2 M153.7 221.2 h-3.2 M153.7 249.5 h-3.2 M153.7 277.8 h-3.2 M153.7 306.1 h-3.2 M153.7 334.4 h-3.2 M283.8 277.8 h3.6 M283.8 306.1 h3.6 M154.8 334.5 v3.2 M180.56 334.5 v3.2 M206.32 334.5 v3.2 M232.08 334.5 v3.2 M257.84 334.5 v3.2 M283.6 334.5 v3.2" stroke="#444" stroke-width="0.9" fill="none"/>
<path d="M153.7 192.3 H283.8" stroke="#50453a" stroke-width="0.9" fill="none"/>
<path d="M283.8 192.3 V334.5" stroke="#6a5a40" stroke-width="0.9" fill="none"/>
<path d="M153.7 334.5 H283.8" stroke="#7a5030" stroke-width="0.9" fill="none"/>
<path d="M153.7 192.3 V334.5" stroke="#c89030" stroke-width="0.9" fill="none"/>
<text x="220" y="362.7" font-size="10.5" text-anchor="middle" fill="#111">Q<tspan font-size="7.14" dy="3.15">x</tspan><tspan dy="-3.15">&#8203;</tspan> [A<tspan font-size="7.14" dy="-5.67">-1</tspan><tspan dy="5.67">&#8203;</tspan>]</text>
<text transform="translate(131.8 262.65) rotate(-90)" font-size="10.2" text-anchor="middle" fill="#111"><tspan font-family="'Liberation Serif', 'DejaVu Serif', serif" font-style="italic" font-size="11.5" style="stroke-width:0">&#969;</tspan> (eV)</text>
<rect x="160.5" y="196.3" width="25.3" height="13.8" fill="#fff" stroke="#555" stroke-width="0.9"/>
<text x="173.2" y="207.1" font-size="10.3" text-anchor="middle" fill="#111">Re X</text>
<g>
<clipPath id="cp8"><rect x="314.5" y="8.5" width="153" height="148"/></clipPath>
<g clip-path="url(#cp8)" fill="none" stroke="#f80000" stroke-width="1.25" stroke-linejoin="round">
<polyline points="314.5,56.75 321.25,56.51 333.25,55.81 336.75,55.71 344.25,55.64 348,55.42 350.5,55.07 352.75,54.48 353.75,54.1 354.75,53.6 355.5,53.12 356.25,52.53 357,51.8 357.75,50.88 358.5,49.7 359,48.73 359.5,47.56 360,46.17 360.5,44.48 361,42.44 361.75,38.54 362.5,33.43 364.5,16.03 364.75,14.47 365,13.38 365.25,12.82 365.5,12.86 365.75,13.49 366,14.68 366.5,18.37 367.75,30.44 368.5,36.82 369,40.32 369.5,43.25 370,45.67 370.5,47.68 371,49.34 371.75,51.33 372.5,52.86 373.25,54.05 374,55 375,55.97 376.25,56.88 377.5,57.55 379,58.13 380.5,58.57 382.25,58.94 384.25,59.26 389.25,59.74 396,60.07 405.25,60.28 418.75,60.43 467.5,60.57"/>
<polyline points="314.5,61.65 321.25,61.42 333.25,60.72 343.75,60.48 347.5,60.23 350,59.85 352.25,59.25 353.25,58.86 354.25,58.37 355,57.9 355.75,57.33 356.75,56.36 357.5,55.42 358.25,54.23 358.75,53.27 359.75,50.77 360.25,49.15 360.75,47.22 361.5,43.6 362.25,38.95 364,24.94 364.5,21.43 364.75,20.12 365,19.21 365.25,18.76 365.5,18.81 365.75,19.36 366,20.38 366.25,21.8 366.75,25.57 368,36.58 368.75,42.31 369.25,45.5 369.75,48.19 370.25,50.46 370.75,52.36 371.25,53.96 372,55.89 372.75,57.41 373.5,58.6 374.5,59.84 375.5,60.78 376.75,61.66 378,62.31 379.5,62.9 381,63.34 382.75,63.73 384.75,64.05 387,64.32 389.75,64.56 396.75,64.91 406,65.14 419.25,65.29 467.5,65.44"/>
<polyline points="314.5,66.56 321.5,66.32 333.75,65.6 343.5,65.31 346.75,65.07 349.5,64.65 351.75,64.05 352.75,63.66 353.75,63.17 355.25,62.16 356,61.49 356.75,60.67 357.5,59.65 358,58.83 358.75,57.34 359.25,56.14 360.25,53.03 361.25,48.73 362,44.49 364.25,28.38 364.75,25.87 365,25.11 365.25,24.75 365.5,24.81 365.75,25.29 366,26.17 366.25,27.41 366.75,30.7 368.25,42.65 369,47.82 370,53.21 371,57.13 371.5,58.66 372.25,60.53 373,62.02 374,63.55 375,64.71 376,65.6 377.25,66.46 378.5,67.1 380,67.69 381.5,68.13 383.25,68.52 385.5,68.89 390.5,69.39 397.5,69.76 406.75,69.99 420,70.15 467.5,70.31"/>
<polyline points="314.5,71.46 321.5,71.23 333,70.55 343,70.17 346.25,69.92 349,69.49 351.25,68.89 352.25,68.51 353.25,68.04 354.25,67.44 355,66.88 355.75,66.21 356.5,65.39 357.25,64.39 357.75,63.59 358.5,62.15 359,60.99 360,58.07 361,54.1 361.75,50.28 364.25,34.26 364.75,32.14 365,31.51 365.25,31.22 365.5,31.29 365.75,31.71 366,32.47 366.25,33.54 366.75,36.4 368.5,48.91 369.25,53.54 370.25,58.45 370.75,60.41 371.5,62.84 372,64.18 372.75,65.84 373.5,67.18 374.5,68.58 375.5,69.66 376.5,70.5 377.75,71.32 379,71.94 380.5,72.52 382,72.95 383.75,73.34 386,73.71 388.5,74.01 391.25,74.25 398.25,74.61 407.5,74.85 420.75,75.02 467.5,75.18"/>
<polyline points="314.5,76.37 322,76.12 333,75.46 342.25,75.07 345.75,74.79 348.5,74.36 350.75,73.78 351.75,73.41 352.75,72.95 353.75,72.39 354.5,71.86 355.25,71.24 356,70.48 356.75,69.57 357.5,68.45 358.25,67.08 358.75,65.98 359.75,63.26 360.75,59.62 361.5,56.18 362.25,52.09 363.75,43.01 364.25,40.46 364.75,38.66 365,38.14 365.25,37.9 365.5,37.97 365.75,38.34 366,39 366.5,41.06 367,43.88 368.75,55.2 369.5,59.35 370.5,63.81 371,65.61 371.75,67.87 372.5,69.7 373.25,71.18 374,72.38 375,73.66 376,74.65 377,75.44 378.25,76.22 379.75,76.92 381.25,77.45 383,77.92 384.75,78.28 387,78.62 392.25,79.13 399.5,79.49 409,79.73 422,79.89 467.5,80.06"/>
<polyline points="314.5,81.29 322.75,81 332.75,80.41 341.75,80 345.25,79.72 348,79.31 350.25,78.76 352.25,78 353.25,77.47 354,77 354.75,76.43 355.5,75.76 356.25,74.95 357,73.97 357.75,72.78 358.25,71.85 359,70.18 359.5,68.87 360.5,65.64 361.25,62.61 362,59.06 364,48.69 364.5,46.83 364.75,46.18 365,45.75 365.25,45.56 365.5,45.62 365.75,45.93 366,46.48 366.5,48.22 367.25,51.98 369,61.95 369.75,65.59 370.75,69.55 371.25,71.18 372,73.24 372.75,74.91 373.5,76.29 374.25,77.42 375.25,78.63 376.25,79.58 377.5,80.51 378.75,81.22 380.25,81.88 381.75,82.38 383.5,82.83 385.5,83.21 387.75,83.54 393.25,84.03 400.25,84.37 409.75,84.61 422.75,84.76 467.5,84.93"/>
<polyline points="314.5,86.18 323.25,85.87 340.75,84.88 344.5,84.58 347.25,84.19 349.75,83.61 351.75,82.9 353.5,81.99 354.5,81.3 355.25,80.67 356,79.92 356.75,79.03 358,77.12 358.75,75.66 359.25,74.52 360.25,71.75 361.25,68.26 363.5,58.42 364,56.46 364.5,54.95 364.75,54.43 365,54.08 365.25,53.93 365.5,53.97 365.75,54.22 366,54.67 366.5,56.08 367.25,59.2 369,67.85 370,72.13 370.5,73.96 371.25,76.32 371.75,77.67 372.5,79.39 373.25,80.8 374,81.97 375,83.24 376,84.23 377,85.03 378.25,85.82 379.5,86.43 380.75,86.92 382.25,87.38 384,87.8 386,88.16 388.25,88.46 393.75,88.93 400.75,89.26 410.25,89.49 423,89.64 467.5,89.8"/>
<polyline points="314.5,91.01 319.5,90.85 324.5,90.59 339.25,89.62 343.5,89.24 346.5,88.8 349,88.23 351.25,87.46 353,86.61 354,85.99 354.75,85.44 356.25,84.06 357.5,82.51 358.75,80.47 359.75,78.36 360.75,75.74 361.5,73.43 363.25,67.3 364,64.97 364.5,63.82 364.75,63.42 365,63.15 365.25,63.03 365.5,63.05 365.75,63.23 366,63.57 366.25,64.05 366.75,65.41 367.5,68.13 369.25,75.37 370.25,78.97 370.75,80.52 371.5,82.54 372,83.7 372.75,85.19 373.5,86.44 374.25,87.47 375.25,88.6 376.25,89.5 377.25,90.22 378.5,90.94 379.75,91.51 381.25,92.04 382.75,92.45 384.5,92.82 386.5,93.15 388.75,93.43 394.25,93.87 401.5,94.18 411,94.39 423.75,94.53 467.5,94.68"/>
<polyline points="314.5,95.86 319.75,95.68 325,95.39 337.75,94.49 342.25,94.08 345.25,93.68 347.75,93.18 350,92.55 352,91.77 353.75,90.85 355.5,89.61 357,88.17 358.25,86.61 359.5,84.59 360.5,82.59 361.5,80.21 363.25,75.52 364,73.76 364.5,72.88 364.75,72.57 365,72.36 365.25,72.25 365.5,72.25 365.75,72.36 366,72.6 366.25,72.94 366.75,73.96 367.5,76.07 369.5,82.82 370.5,85.8 371.75,88.8 373,91.07 373.75,92.15 374.5,93.05 375.5,94.04 376.5,94.84 377.5,95.49 378.75,96.13 380.25,96.73 381.75,97.19 383.5,97.6 385.25,97.92 389.5,98.44 395,98.83 402.25,99.1 411.75,99.29 424.5,99.42 467.5,99.56"/>
<polyline points="314.5,100.75 319.75,100.57 325,100.28 336.5,99.46 341.25,99.06 344.25,98.7 347,98.22 349.5,97.62 351.5,96.96 353.25,96.2 355,95.21 356.5,94.12 358,92.7 359.25,91.19 360.5,89.32 361.5,87.53 363.25,84.09 364,82.79 364.75,81.88 365.25,81.61 365.5,81.59 366,81.78 366.25,82.01 366.5,82.32 367,83.16 367.75,84.86 369.75,90.24 370.75,92.65 372,95.12 372.75,96.33 373.5,97.35 374.25,98.21 375.25,99.16 376.25,99.93 377.25,100.55 378.25,101.06 379.5,101.57 381,102.06 382.5,102.43 386,103.04 390.25,103.47 396,103.81 403.25,104.05 412.75,104.21 425.25,104.32 467.5,104.44"/>
<polyline points="314.5,105.66 319.75,105.49 325,105.21 340.75,104.07 343.75,103.75 346.5,103.34 348.75,102.88 351,102.28 353,101.58 354.75,100.79 356.5,99.78 358,98.67 359.25,97.52 360.5,96.12 361.5,94.8 363.5,91.88 364.25,90.94 365,90.3 365.5,90.13 365.75,90.14 366.25,90.33 366.5,90.52 367.25,91.47 368,92.84 370,97.23 371.25,99.68 372.5,101.66 373.25,102.63 374,103.46 374.75,104.15 375.75,104.93 376.75,105.55 377.75,106.06 378.75,106.48 380,106.91 382.75,107.58 386.25,108.1 390.5,108.48 396.25,108.78 403.5,108.98 425.5,109.22 467.5,109.33"/>
<polyline points="314.5,110.58 319.75,110.41 324.75,110.16 339.75,109.14 343,108.83 345.75,108.48 348.25,108.06 350.5,107.56 352.5,107 354.5,106.29 356.25,105.5 358,104.51 359.5,103.43 360.75,102.34 361.75,101.32 363.75,99.05 364.5,98.29 365.25,97.76 365.75,97.59 366,97.59 366.25,97.63 366.75,97.85 367.25,98.3 367.75,98.94 368.5,100.16 370.75,104.38 371.75,106.03 373,107.71 373.75,108.53 374.5,109.22 375.25,109.82 376.25,110.47 377.25,111 378.25,111.43 380.5,112.15 383.25,112.72 386.75,113.16 391.25,113.5 396.75,113.74 404,113.91 426,114.12 467.5,114.21"/>
<polyline points="314.5,115.52 324.75,115.13 339.25,114.23 345.5,113.64 348,113.28 350.25,112.87 352.5,112.36 354.5,111.78 356.5,111.07 358.25,110.3 359.75,109.5 361.25,108.51 365,105.46 365.75,105.05 366.5,104.93 367,105.05 367.5,105.32 368.25,106.06 369,107.07 371.25,110.63 372.25,112.04 373.5,113.49 375,114.81 375.75,115.32 376.75,115.88 378.75,116.72 381,117.33 383.75,117.82 387.25,118.2 391.5,118.48 397,118.69 404.25,118.84 426,119.01 467.5,119.09"/>
<polyline points="314.5,120.48 324.5,120.15 339,119.35 345,118.88 350,118.25 352.25,117.84 354.5,117.35 356.5,116.81 358.5,116.16 360.25,115.47 361.75,114.76 365.75,112.42 366.5,112.12 367.25,112.04 367.75,112.15 368.25,112.4 369,113.02 370,114.16 372,116.81 373,118 374.25,119.23 375.75,120.35 377.5,121.27 379.5,121.97 381.75,122.5 384.5,122.91 388,123.23 392.25,123.46 397.75,123.64 404.75,123.76 426.5,123.91 467.5,123.98"/>
<polyline points="314.5,125.45 324.25,125.17 338.5,124.51 344.75,124.11 349.75,123.61 354.75,122.83 359,121.87 360.75,121.37 362.5,120.78 367,118.92 367.75,118.75 368.25,118.73 369,118.91 369.5,119.18 370,119.55 371,120.51 373.25,122.97 374.25,123.95 375.5,124.96 376.75,125.75 378.5,126.54 380.5,127.15 382.75,127.6 385.5,127.95 388.75,128.21 393,128.42 405.5,128.67 427,128.8 467.5,128.86"/>
<polyline points="314.5,130.4 324.25,130.15 337.75,129.6 344.5,129.23 349.75,128.78 354.75,128.14 359.5,127.29 363.5,126.32 368.25,124.82 369.5,124.62 370.25,124.71 370.75,124.91 371.25,125.22 372.25,126.07 374.5,128.34 375.75,129.48 377,130.4 378.25,131.09 379.75,131.71 381.75,132.26 384,132.66 386.5,132.95 389.75,133.18 394,133.36 406.25,133.58 427.25,133.69 467.5,133.74"/>
<polyline points="314.5,135.31 324.75,135.06 337.25,134.58 344.5,134.2 350,133.76 355,133.17 360,132.36 365,131.29 370.25,129.89 371,129.75 371.75,129.71 372.5,129.85 373,130.09 373.5,130.43 374.25,131.23 376,133.59 376.75,134.48 377.75,135.44 378.75,136.15 380,136.77 381.5,137.27 383.5,137.68 385.75,137.96 388.5,138.16 392.25,138.31 403.75,138.5 424.75,138.58 467.5,138.62"/>
<polyline points="314.5,140.19 325.25,139.94 336.75,139.51 344.5,139.1 350.5,138.62 355.75,138 360.75,137.21 366.25,136.1 372.75,134.51 373.75,134.34 374.5,134.3 375,134.37 375.5,134.55 376.25,135.05 376.75,135.8 378,138.51 378.5,139.43 379.25,140.49 380,141.23 381,141.88 382.25,142.37 383.75,142.72 385.5,142.96 387.75,143.13 391,143.26 401.5,143.41 467.5,143.5"/>
<polyline points="314.5,145.04 326,144.76 337,144.34 345,143.88 351.75,143.28 357.25,142.57 362.25,141.72 368,140.48 376,138.46 377.25,138.23 378,138.19 378.5,138.25 379,138.42 379.75,138.95 380,139.8 380.5,142.55 381,144.67 381.25,145.38 381.75,146.33 382.25,146.9 383,147.39 384,147.73 385.5,147.98 387.25,148.12 390,148.22 399.25,148.32 467.5,148.38"/>
<polyline points="314.5,149.84 327.75,149.5 338.5,149.03 347.25,148.42 351.25,148.02 354.75,147.6 360.75,146.65 363.75,146.05 366.5,145.41 369.5,144.63 372.75,143.69 380.75,141.11 381.75,140.85 382.5,140.77 383,140.81 383.5,140.98 384,141.32 384.25,141.71 385.25,148.22 385.75,150.08 386.25,151.11 386.75,151.71 387.5,152.23 388.25,152.52 389.5,152.78 391.25,152.96 393.5,153.07 402,153.19 467.5,153.26"/>
</g>
<path d="M314.5 156.5 V8.5 H467.5" fill="none" stroke="#a0a0a0" stroke-width="1"/>
<path d="M467.5 8.5 V156.5" fill="none" stroke="#5a5a5a" stroke-width="1.1"/>
<path d="M314.5 156.5 H467.5" fill="none" stroke="#a8a8e8" stroke-width="1"/>
<path d="M340.1 8.5 v2.5 M340.1 156.5 v-2.5 M365.4 8.5 v2.5 M365.4 156.5 v-2.5 M390.7 8.5 v2.5 M390.7 156.5 v-2.5 M416 8.5 v2.5 M416 156.5 v-2.5 M441.3 8.5 v2.5 M441.3 156.5 v-2.5" stroke="#777" stroke-width="0.8" fill="none"/>
<text x="314.5" y="169.2" font-size="10.6" text-anchor="middle" fill="#111">-0.2</text>
<text x="365.4" y="169.2" font-size="10.6" text-anchor="middle" fill="#111">0.0</text>
<text x="416" y="169.2" font-size="10.6" text-anchor="middle" fill="#111">0.2</text>
<text x="466.1" y="169.2" font-size="10.6" text-anchor="middle" fill="#111">0.4</text>
<rect x="413.8" y="45.4" width="44.5" height="10.5" fill="#fff"/>
<text x="414.8" y="54" font-size="9.9" text-anchor="start" fill="#111">Q<tspan font-size="6.73" dy="2.97">x</tspan><tspan dy="-2.97">&#8203;</tspan>=0.0&#197;<tspan font-size="5.85" dy="-4.64">-1</tspan><tspan dy="4.64">&#8203;</tspan></text>
<rect x="411.8" y="138.8" width="44.5" height="11" fill="#fff"/>
<text x="412.8" y="147.6" font-size="9.9" text-anchor="start" fill="#111">Q<tspan font-size="6.73" dy="2.97">x</tspan><tspan dy="-2.97">&#8203;</tspan>=0.5&#197;<tspan font-size="5.85" dy="-4.64">-1</tspan><tspan dy="4.64">&#8203;</tspan></text>
<line x1="460.4" y1="48.2" x2="460.4" y2="144.6" stroke="#111" stroke-width="1.4"/>
<path d="M460.4 147.6 l-2.5 -5.4 h5 z" fill="#111"/>
<text transform="translate(474.8 82.2) rotate(90)" font-size="11" text-anchor="middle" fill="#111">Re X (a.u.)</text>
<text x="392.4" y="178.2" font-size="10.2" text-anchor="middle" fill="#111"><tspan font-family="'Liberation Serif', 'DejaVu Serif', serif" font-style="italic" font-size="11.5">&#969;</tspan> (eV)</text>
</g>
<g>
<clipPath id="cp195"><rect x="314.5" y="195.5" width="156" height="149"/></clipPath>
<g clip-path="url(#cp195)" fill="none" stroke="#f80000" stroke-width="1.25" stroke-linejoin="round">
<polyline points="314.5,211.67 331,211.52 341.5,211.25 345.25,211.06 348.5,210.79 351,210.47 353.25,210.05 355,209.57 356.5,209.02 358,208.26 359.25,207.4 360.5,206.29 361.5,205.18 364.75,200.81 365.5,200.12 366,199.86 366.25,199.81 366.5,199.86 367,200.21 368,201.17 369,202.38 371.25,205.32 372.75,207.01 374,208.17 375.25,209.1 377,210.09 378,210.53 379.25,210.99 381.75,211.65 385,212.2 388.75,212.6 393.5,212.9 399.25,213.12 406.75,213.27 429,213.46 470.5,213.55"/>
<polyline points="314.5,218.13 331.75,218 342.25,217.76 346,217.58 349.25,217.34 351.75,217.04 354,216.63 355.75,216.17 357.25,215.6 358.5,214.96 359.75,214.09 360.75,213.19 361.75,212.07 362.75,210.72 364.5,208.13 365,207.49 365.75,206.81 366.25,206.62 366.5,206.67 366.75,206.84 367.25,207.3 367.75,207.88 368.5,208.92 370.5,211.95 371.75,213.6 373,214.91 374.25,215.93 375,216.42 376,216.97 378,217.77 380.25,218.36 383.25,218.85 386.75,219.2 391.25,219.46 397,219.65 404.25,219.78 426.75,219.93 470.5,220"/>
<polyline points="314.5,224.58 333,224.47 343.75,224.25 347.75,224.07 350.75,223.84 353.25,223.53 355.25,223.15 357,222.65 358.5,222.01 359.75,221.25 361,220.2 362,219.08 362.75,218.04 363.5,216.84 365.5,213.34 366,212.69 366.25,212.53 366.5,212.57 367,213.2 369.25,217.72 370.25,219.49 371.25,220.92 372.5,222.27 373.25,222.89 374,223.4 374.75,223.82 375.75,224.27 376.75,224.62 378,224.96 380.75,225.44 384,225.77 388,226 393.25,226.16 400.25,226.27 423,226.39 470.5,226.44"/>
<polyline points="314.5,231.03 334.75,230.94 345.75,230.74 349.5,230.57 352.5,230.34 354.75,230.05 356.75,229.64 358.5,229.07 360,228.29 361.25,227.3 362.25,226.18 363.25,224.64 364,223.15 364.75,221.3 365.75,218.38 366,217.78 366.25,217.42 366.5,217.43 366.75,217.87 368.25,222.96 369.25,225.66 370,227.17 371,228.65 371.5,229.21 372.25,229.88 373,230.4 373.75,230.81 375.5,231.47 376.75,231.77 378,231.99 380.75,232.3 384.25,232.51 389,232.65 395.75,232.75 418.25,232.84 470.5,232.88"/>
<polyline points="314.5,237.48 336.5,237.39 347.75,237.2 351.5,237.02 354.25,236.79 356.5,236.46 358.25,236.03 359.75,235.43 361,234.63 362,233.68 362.5,233.04 363,232.26 363.75,230.72 364.25,229.38 365,226.67 366,222.21 366.25,221.59 366.5,221.56 366.75,222.21 367,223.33 367.75,227.5 368.5,230.88 369.25,233.18 370,234.75 370.5,235.51 371,236.11 371.75,236.79 372.5,237.29 373.25,237.67 374.25,238.04 376.25,238.49 378.75,238.8 381.75,238.99 386,239.12 392.25,239.21 414.5,239.29 470.5,239.31"/>
<polyline points="314.5,243.91 337.5,243.81 344,243.71 348.75,243.57 352.5,243.36 355.25,243.05 357.25,242.66 359,242.09 359.75,241.72 360.5,241.25 361.25,240.62 361.75,240.09 362.25,239.42 362.75,238.6 363.5,236.92 364,235.38 364.5,233.33 365,230.6 366,223.65 366.25,222.6 366.5,222.45 366.75,223.38 367,225.12 367.75,231.59 368.25,235.06 368.75,237.59 369,238.58 369.5,240.11 370,241.23 370.5,242.07 371,242.7 371.5,243.19 372.25,243.74 373,244.13 374,244.51 375,244.78 377.25,245.14 380.25,245.39 384.25,245.54 390.25,245.64 412,245.72 470.5,245.74"/>
<polyline points="314.5,250.33 337.5,250.22 344.25,250.1 349,249.94 352.75,249.68 355.5,249.31 357.5,248.84 358.5,248.49 359.25,248.14 360,247.69 360.75,247.1 361.5,246.31 362,245.63 362.5,244.77 363,243.69 363.75,241.4 364.25,239.21 364.75,236.18 365.25,232.03 366,224.6 366.25,222.96 366.5,222.52 366.75,223.62 367,225.98 367.75,235.04 368.25,239.74 368.75,243 369.25,245.23 369.5,246.07 370,247.37 370.5,248.31 371,249.01 371.75,249.76 372.5,250.28 373.25,250.65 374.25,251.01 376.25,251.43 379.25,251.75 383.25,251.94 389,252.05 410.5,252.15 470.5,252.17"/>
<polyline points="314.5,256.74 337.25,256.59 344,256.44 348.75,256.22 352.5,255.89 355.25,255.44 356.5,255.13 357.5,254.8 358.5,254.37 359.25,253.95 360,253.42 360.75,252.75 361.5,251.87 362,251.12 362.5,250.19 363,249.02 363.75,246.55 364.25,244.15 364.75,240.77 365.25,235.98 366,226.74 366.25,224.38 366.5,223.35 366.75,224.17 367,226.73 367.75,237.84 368.25,243.74 368.75,247.8 369.25,250.53 369.5,251.54 370,253.1 370.5,254.21 371,255.02 371.5,255.64 372.25,256.31 373.25,256.9 374.25,257.3 376.25,257.78 379.25,258.13 383.25,258.34 389,258.47 410.5,258.57 470.5,258.6"/>
<polyline points="314.5,263.15 337,262.96 343.5,262.79 348.5,262.52 352.25,262.15 355.25,261.6 356.5,261.25 357.5,260.9 358.5,260.44 359.5,259.85 360.25,259.28 361,258.56 361.75,257.63 362.25,256.84 362.75,255.85 363.25,254.6 364,251.88 364.5,249.14 365,245.19 365.5,239.55 366.25,229.54 366.5,227.6 366.75,227.43 367,229.33 368.25,247.83 368.75,252.62 369.25,255.84 369.5,257.03 370,258.84 370.5,260.12 371,261.05 371.5,261.75 372.25,262.5 373.25,263.17 374.25,263.61 375.25,263.92 376.25,264.14 379.25,264.52 383.25,264.75 389,264.88 410.5,265 470.5,265.03"/>
<polyline points="314.5,269.54 327,269.45 336,269.31 342.5,269.11 347.5,268.81 351.5,268.38 354.5,267.83 355.75,267.5 357,267.08 358.25,266.54 359.25,265.99 360.25,265.3 361,264.65 361.75,263.84 362.5,262.79 363,261.89 363.5,260.74 364.25,258.27 364.75,255.76 365.25,252.12 366.5,238.15 366.75,236.67 367,236.87 367.25,238.94 368,249.84 368.5,256.01 369,260.29 369.5,263.16 369.75,264.22 370.25,265.85 370.75,267 371.25,267.84 371.75,268.47 372.5,269.15 373.5,269.76 374.5,270.16 376.5,270.64 379.5,270.99 383.5,271.2 389.25,271.32 410.5,271.43 470.5,271.46"/>
<polyline points="314.5,275.92 325.75,275.82 334.25,275.66 340.75,275.44 345.75,275.14 350,274.71 353.25,274.17 356,273.47 357.25,273.03 358.5,272.5 359.5,271.99 360.5,271.38 362,270.2 362.75,269.41 363.25,268.77 363.75,267.97 364.25,266.95 364.75,265.56 365,264.67 365.5,262.31 366,258.95 366.75,252.88 367,251.64 367.25,251.45 367.5,252.76 368.75,266.28 369.25,269.71 369.75,271.96 370,272.78 370.5,274 371,274.86 371.5,275.47 372,275.92 372.75,276.39 373.5,276.72 374.25,276.96 376.25,277.34 378.75,277.57 382.5,277.73 387.75,277.81 407.5,277.88 470.5,277.9"/>
<polyline points="314.5,282.3 331.5,282.06 337.5,281.87 342.5,281.62 346.5,281.31 350,280.9 353,280.4 355.75,279.74 358.25,278.91 360.75,277.81 362.75,276.66 363.5,276.12 364.25,275.45 365,274.54 365.75,273.12 366.25,271.68 367.25,267.82 367.5,267.26 367.75,267.28 368,268.34 369,276.2 369.5,278.89 370,280.59 370.25,281.18 370.75,282.04 371.5,282.82 372,283.14 372.75,283.47 374.25,283.83 376,284.03 378.5,284.17 386.75,284.3 470.5,284.33"/>
<polyline points="314.5,288.68 329.5,288.45 339.75,288.07 343.75,287.82 347.25,287.5 350.5,287.09 353.25,286.62 356.25,285.92 359.25,285 362.5,283.73 364.75,282.62 365.75,281.9 366.5,281.06 367,280.23 368,278.15 368.25,277.92 368.5,278.16 368.75,279.26 369.75,285.56 370,286.63 370.5,288.1 371,288.98 371.25,289.28 371.75,289.7 372.25,289.97 372.75,290.16 374.25,290.45 375.75,290.58 378,290.66 385.75,290.74 470.5,290.76"/>
<polyline points="314.5,295.03 328,294.78 338,294.39 342,294.14 345.75,293.81 349,293.42 351.75,292.99 355,292.32 358.25,291.44 362,290.18 365.5,288.81 366.5,288.29 367.25,287.73 368,286.85 368.75,285.66 369,285.36 369.25,285.23 369.5,285.65 369.75,286.95 370.5,291.99 370.75,293.23 371.25,294.9 371.75,295.83 372.25,296.36 373,296.77 374.25,297.04 376.25,297.15 380.25,297.19 470.5,297.19"/>
<polyline points="314.5,301.41 327.5,301.16 337.25,300.78 344.75,300.26 348,299.92 351,299.51 354.5,298.9 358,298.11 361.5,297.15 366.75,295.54 367.75,295.16 368.5,294.75 369.25,294.13 370.25,293.04 370.5,292.93 370.75,293.2 371,294.39 371.75,299.42 372,300.64 372.5,302.2 372.75,302.67 373.25,303.25 374,303.64 374.75,303.77 376.25,303.82 383.5,303.68 393,303.63 470.5,303.62"/>
<polyline points="314.5,307.83 327,307.59 336.75,307.25 344.5,306.78 351,306.12 354.75,305.58 358.25,304.93 361.5,304.22 368.5,302.55 369.5,302.25 370.25,301.94 371,301.45 371.75,300.78 372,300.61 372.25,300.54 372.5,300.92 373.5,307.27 373.75,308.38 374,309.16 374.25,309.71 374.75,310.32 375.25,310.59 375.75,310.69 376.75,310.69 380.5,310.39 383.5,310.23 391.75,310.08 470.5,310.05"/>
<polyline points="314.5,314.23 327,314 337,313.67 345,313.21 351.75,312.59 355.5,312.11 359.25,311.51 370.75,309.25 371.75,308.99 372.5,308.71 373.25,308.26 374,307.65 374.25,307.5 374.5,307.43 374.75,307.84 375,309.3 375.5,313.09 376,315.75 376.25,316.54 376.5,317.07 376.75,317.41 377.25,317.75 377.75,317.85 378.75,317.76 382.25,317.17 384.75,316.89 388.5,316.67 393.25,316.55 406.75,316.48 470.5,316.48"/>
<polyline points="314.5,320.62 327.25,320.37 337.5,320.03 346,319.55 353,318.93 357,318.44 361,317.84 373.75,315.52 374.75,315.26 375.5,314.96 376,314.66 377,313.86 377.25,313.75 377.5,313.75 377.75,314.73 378.5,320.62 379,323.26 379.25,324.03 379.5,324.55 379.75,324.88 380,325.08 380.5,325.23 381.5,325.1 385,324.14 387.5,323.69 391.25,323.33 396,323.13 409.5,323.01 470.5,323"/>
<polyline points="314.5,326.95 328,326.66 338.75,326.25 347.5,325.71 355,324.99 359.25,324.43 363.25,323.79 377.25,321.14 378.25,320.87 379,320.57 379.75,320.06 380.5,319.35 380.75,319.18 381,319.1 381.25,319.34 381.5,320.82 382.25,327.46 382.75,330.46 383,331.38 383.25,332.03 383.5,332.45 383.75,332.71 384.25,332.93 385,332.85 388.75,331.38 390,331.01 391.5,330.66 393.25,330.36 395.25,330.12 400,329.82 405.25,329.7 413.25,329.64 470.5,329.63"/>
<polyline points="314.5,333.01 329.5,332.51 335.75,332.19 341.25,331.82 346.25,331.39 351,330.86 355.25,330.27 359.25,329.58 363.25,328.75 367.25,327.77 380.25,324.11 381.75,323.63 382.75,323.16 383.5,322.58 384.25,321.59 385.25,319.77 385.5,319.58 385.75,319.64 386,321.03 387,331.29 387.25,333.33 387.75,336.32 388,337.35 388.5,338.71 389,339.44 389.25,339.64 389.75,339.84 390.25,339.85 390.75,339.75 394.75,338.31 396.25,337.89 397.75,337.57 401.25,337.08 406,336.78 411.25,336.64 419,336.59 470.5,336.57"/>
</g>
<path d="M314.5 344.5 V195.5 H470.5" fill="none" stroke="#a0a0a0" stroke-width="1"/>
<path d="M470.5 195.5 V344.5" fill="none" stroke="#8a8a8a" stroke-width="1.1"/>
<path d="M314.5 344.5 H470.5" fill="none" stroke="#a8a8e8" stroke-width="1"/>
<path d="M340.5 195.5 v2.5 M340.5 344.5 v-2.5 M366.4 195.5 v2.5 M366.4 344.5 v-2.5 M392.3 195.5 v2.5 M392.3 344.5 v-2.5 M418.2 195.5 v2.5 M418.2 344.5 v-2.5 M444.1 195.5 v2.5 M444.1 344.5 v-2.5" stroke="#777" stroke-width="0.8" fill="none"/>
<text x="314.3" y="357.2" font-size="10.6" text-anchor="middle" fill="#111">-0.2</text>
<text x="366.4" y="357.2" font-size="10.6" text-anchor="middle" fill="#111">0.0</text>
<text x="418.2" y="357.2" font-size="10.6" text-anchor="middle" fill="#111">0.2</text>
<text x="469.5" y="357.2" font-size="10.6" text-anchor="middle" fill="#111">0.4</text>
<rect x="412.2" y="204.8" width="44.5" height="10.5" fill="#fff"/>
<text x="413.2" y="213.4" font-size="9.9" text-anchor="start" fill="#111">Q<tspan font-size="6.73" dy="2.97">x</tspan><tspan dy="-2.97">&#8203;</tspan>=0.0&#197;<tspan font-size="5.85" dy="-4.64">-1</tspan><tspan dy="4.64">&#8203;</tspan></text>
<rect x="412.2" y="325" width="44.5" height="11" fill="#fff"/>
<text x="413.2" y="333.8" font-size="9.9" text-anchor="start" fill="#111">Q<tspan font-size="6.73" dy="2.97">x</tspan><tspan dy="-2.97">&#8203;</tspan>=0.5&#197;<tspan font-size="5.85" dy="-4.64">-1</tspan><tspan dy="4.64">&#8203;</tspan></text>
<line x1="460.4" y1="211.8" x2="460.4" y2="331.2" stroke="#111" stroke-width="0.8"/>
<path d="M460.4 334.2 l-2.5 -5.4 h5 z" fill="#111"/>
<text transform="translate(477.8 270.6) rotate(90)" font-size="11" text-anchor="middle" fill="#111">Im X (a.u.)</text>
<text x="393.4" y="364.2" font-size="10.2" text-anchor="middle" fill="#111"><tspan font-family="'Liberation Serif', 'DejaVu Serif', serif" font-style="italic" font-size="11.5">&#969;</tspan> (eV)</text>
</g>
<defs><linearGradient id="cb" x1="0" y1="0" x2="0" y2="1"><stop offset="0" stop-color="#000"/><stop offset="0.05" stop-color="#000"/><stop offset="0.5" stop-color="#ff0000"/><stop offset="0.56" stop-color="#ff0800"/><stop offset="1" stop-color="#ffff00"/></linearGradient></defs>
<rect x="504.3" y="99.8" width="10.6" height="147.4" fill="url(#cb)" stroke="#999" stroke-width="0.6"/>
<path d="M514.9 100.6 H522 M514.9 246.8 H522" stroke="#444" stroke-width="0.9" fill="none"/>
<text x="526.2" y="105" font-size="11.2" text-anchor="start" fill="#111">High</text>
<text x="526.5" y="250.2" font-size="11.2" text-anchor="start" fill="#111">Low</text>
<text transform="translate(548.1 173.5) rotate(90)" font-size="12.5" text-anchor="middle" fill="#111">Intensity</text>
</svg>
</body>
</html>
